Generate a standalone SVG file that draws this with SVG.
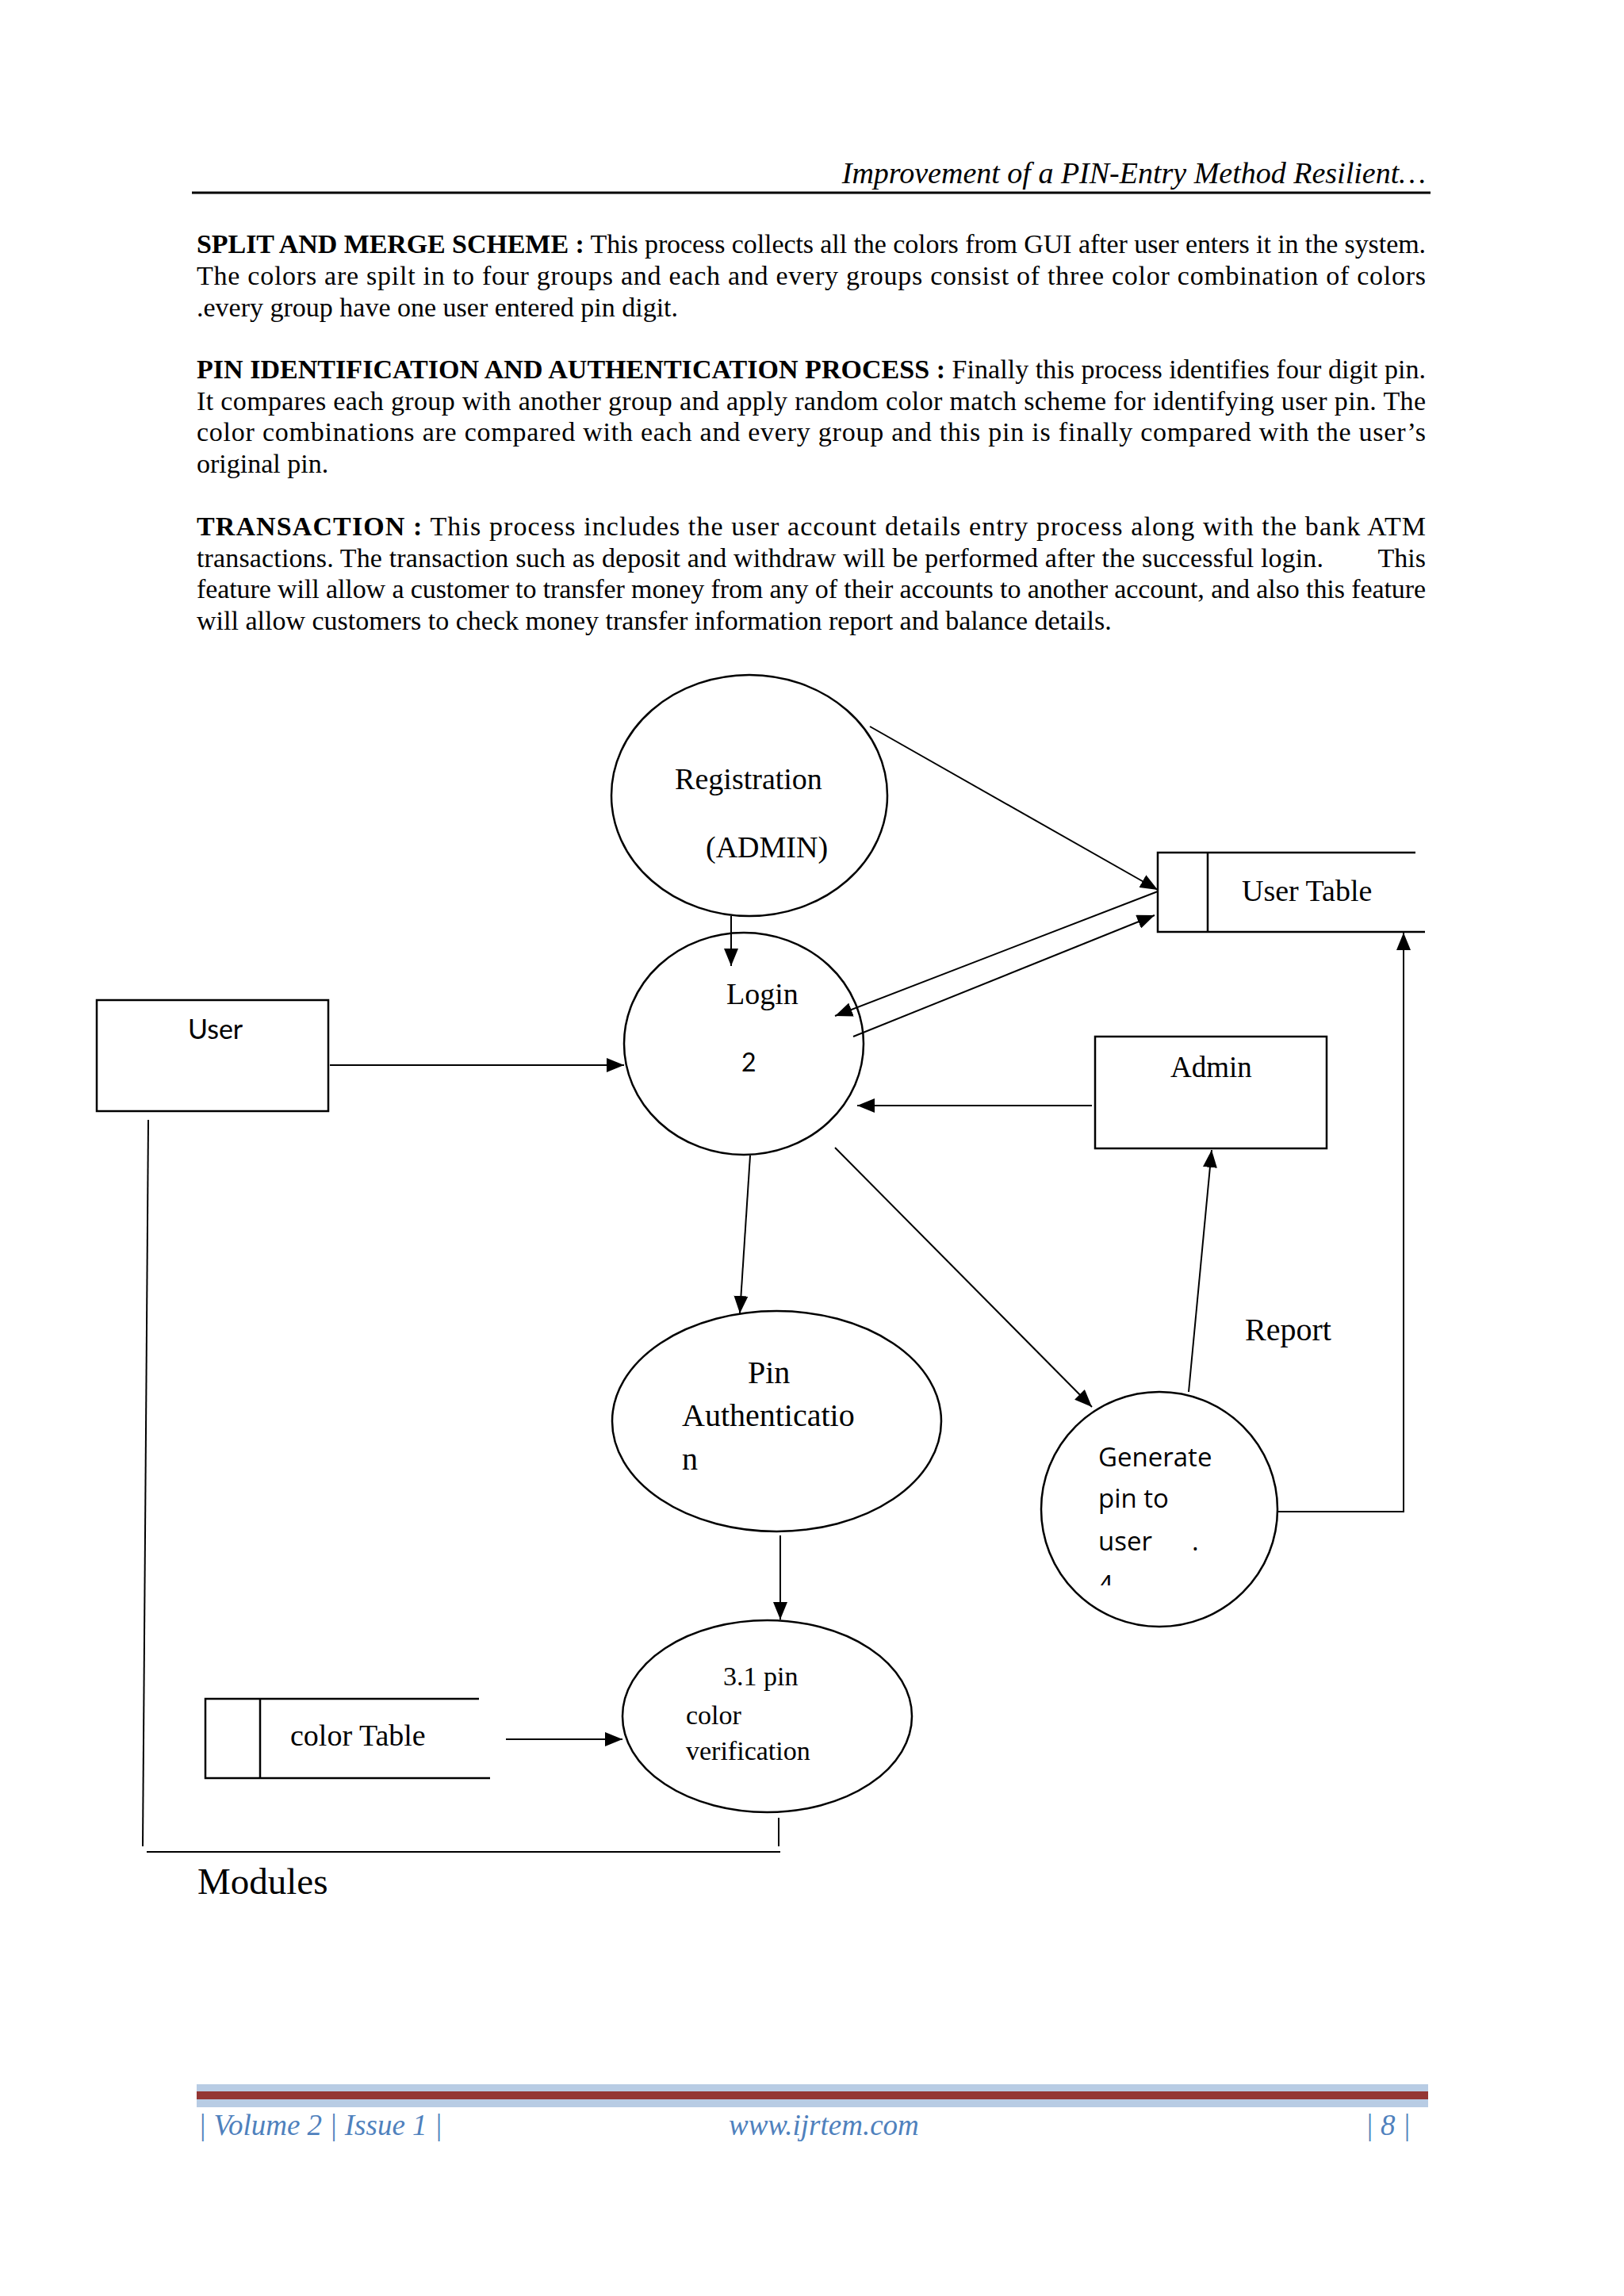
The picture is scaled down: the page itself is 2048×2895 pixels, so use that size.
<svg xmlns="http://www.w3.org/2000/svg" width="2048" height="2895" viewBox="0 0 2048 2895">
<style>
.body{font-family:"Liberation Serif","Times New Roman",serif;font-size:34px;fill:#000}
.b{font-weight:bold}
.ser{font-family:"Liberation Serif","Times New Roman",serif;fill:#000}
.sans{font-family:Lato,"Liberation Sans",sans-serif;fill:#000}
.os{font-family:"Open Sans","DejaVu Sans",sans-serif;fill:#000}
.shape{fill:none;stroke:#000;stroke-width:2.5}
.ln{fill:none;stroke:#000;stroke-width:2}
.foot{font-family:"Liberation Serif","Times New Roman",serif;font-style:italic;font-size:37px;fill:#4f81bd}
</style>
<defs>
<marker id="ah" markerUnits="userSpaceOnUse" markerWidth="22" markerHeight="18" refX="22" refY="9" orient="auto">
<path d="M0,0 L22,9 L0,18 z" fill="#000"/>
</marker>
<clipPath id="clip4"><rect x="1370" y="1970" width="60" height="29"/></clipPath>
</defs>
<rect width="2048" height="2895" fill="#fff"/>

<g id="header">
<text class="ser" x="1798" y="231" font-size="38" font-style="italic" text-anchor="end">Improvement of a PIN-Entry Method Resilient…</text>
<line x1="242" y1="243" x2="1804" y2="243" stroke="#000" stroke-width="3"/>
</g>

<g id="text-body">
<text class="body" x="248" y="319" textLength="1550" lengthAdjust="spacing"><tspan class="b">SPLIT AND MERGE SCHEME :</tspan> This process collects all the colors from GUI after user enters it in the system.</text>
<text class="body" x="248" y="359" textLength="1550" lengthAdjust="spacing">The colors are spilt in to four groups and each and every groups consist of three color  combination of colors</text>
<text class="body" x="248" y="399">.every group have one user entered pin digit.</text>

<text class="body" x="248" y="477" textLength="1550" lengthAdjust="spacing"><tspan class="b">PIN IDENTIFICATION AND AUTHENTICATION PROCESS :</tspan> Finally this process identifies four digit pin.</text>
<text class="body" x="248" y="517" textLength="1550" lengthAdjust="spacing">It compares each group with another group and apply random color match scheme for identifying user pin. The</text>
<text class="body" x="248" y="556" textLength="1550" lengthAdjust="spacing">color combinations are compared with each and every group and this pin is finally compared with the user’s</text>
<text class="body" x="248" y="596">original pin.</text>

<text class="body" x="248" y="675" textLength="1550" lengthAdjust="spacing"><tspan class="b">TRANSACTION :</tspan> This process includes the user account details entry process along with the bank ATM</text>
<text class="body" x="248" y="715" textLength="1421" lengthAdjust="spacing">transactions. The transaction such as deposit and withdraw will be performed after the successful login.</text>
<text class="body" x="1798" y="715" text-anchor="end">This</text>
<text class="body" x="248" y="754" textLength="1550" lengthAdjust="spacing">feature will allow a customer to transfer money from any of their accounts to another account, and also this feature</text>
<text class="body" x="248" y="794">will allow customers to check money transfer information report and balance details.</text>
</g>

<g id="connectors">
<line class="ln" x1="922" y1="1155" x2="922" y2="1218" marker-end="url(#ah)"/>
<line class="ln" x1="1097" y1="916" x2="1460" y2="1122" marker-end="url(#ah)"/>
<line class="ln" x1="1460" y1="1124" x2="1053" y2="1281" marker-end="url(#ah)"/>
<line class="ln" x1="1076" y1="1307" x2="1456" y2="1154" marker-end="url(#ah)"/>
<line class="ln" x1="416" y1="1343" x2="787" y2="1343" stroke-width="3" marker-end="url(#ah)"/>
<line class="ln" x1="1377" y1="1394" x2="1081" y2="1394" marker-end="url(#ah)"/>
<line class="ln" x1="946" y1="1457" x2="933" y2="1656" marker-end="url(#ah)"/>
<line class="ln" x1="1053" y1="1447" x2="1377" y2="1774" marker-end="url(#ah)"/>
<line class="ln" x1="1499" y1="1755" x2="1528" y2="1450" marker-end="url(#ah)"/>
<polyline class="ln" points="1612,1906 1770,1906 1770,1176" marker-end="url(#ah)"/>
<line class="ln" x1="984" y1="1936" x2="984" y2="2042" marker-end="url(#ah)"/>
<line class="ln" x1="638" y1="2193" x2="785" y2="2193" stroke-width="3" marker-end="url(#ah)"/>
<line class="ln" x1="187" y1="1412" x2="180" y2="2328"/>
<line class="ln" x1="185" y1="2335" x2="984" y2="2335" stroke-width="3"/>
<line class="ln" x1="982" y1="2292" x2="982" y2="2328"/>
</g>

<g id="registration">
<ellipse class="shape" cx="945" cy="1003" rx="174" ry="152"/>
<text class="ser" x="944" y="995" font-size="38" text-anchor="middle">Registration</text>
<text class="ser" x="890" y="1081" font-size="38">(ADMIN)</text>
</g>

<g id="user-table">
<path class="shape" d="M1785,1075 H1460 V1175 H1797 M1523,1075 V1175"/>
<text class="ser" x="1566" y="1136" font-size="38">User Table</text>
</g>

<g id="login">
<ellipse class="shape" cx="938" cy="1316" rx="151" ry="140"/>
<text class="ser" x="916" y="1266" font-size="38">Login</text>
<text class="sans" x="935" y="1351" font-size="32">2</text>
</g>

<g id="user">
<rect class="shape" x="122" y="1261" width="292" height="140"/>
<text class="sans" x="237" y="1310" font-size="34">User</text>
</g>

<g id="admin">
<rect class="shape" x="1381" y="1307" width="292" height="141"/>
<text class="ser" x="1476" y="1358" font-size="37">Admin</text>
</g>

<g id="report-label">
<text class="ser" x="1570" y="1690" font-size="40">Report</text>
</g>

<g id="pin-authentication">
<ellipse class="shape" cx="979.5" cy="1792" rx="207.5" ry="139"/>
<text class="ser" x="943" y="1744" font-size="40">Pin</text>
<text class="ser" x="860" y="1798" font-size="40">Authenticatio</text>
<text class="ser" x="860" y="1853" font-size="40">n</text>
</g>

<g id="generate-pin">
<ellipse class="shape" cx="1462" cy="1903" rx="149" ry="148"/>
<text class="os" x="1385" y="1849" font-size="33">Generate</text>
<text class="os" x="1385" y="1901" font-size="33">pin to</text>
<text class="os" x="1385" y="1955" font-size="33">user</text>
<text class="os" x="1503" y="1955" font-size="33">.</text>
<text class="os" x="1385" y="2010" font-size="33" clip-path="url(#clip4)">4</text>
</g>

<g id="pin-color-verification">
<ellipse class="shape" cx="967.5" cy="2164" rx="182.5" ry="121"/>
<text class="ser" x="912" y="2125" font-size="34">3.1 pin</text>
<text class="ser" x="865" y="2174" font-size="34">color</text>
<text class="ser" x="865" y="2219" font-size="34">verification</text>
</g>

<g id="color-table">
<path class="shape" d="M604,2142 H259 V2242 H618 M328,2142 V2242"/>
<text class="ser" x="366" y="2201" font-size="38">color Table</text>
</g>

<g id="modules-label">
<text class="ser" x="249" y="2388" font-size="47">Modules</text>
</g>

<g id="footer">
<rect x="248" y="2628" width="1553" height="9" fill="#b8cce4"/>
<rect x="248" y="2637" width="1553" height="10" fill="#943634"/>
<rect x="248" y="2647" width="1553" height="10" fill="#b8cce4"/>
<text class="foot" x="250" y="2692">| Volume 2 | Issue 1 |</text>
<text class="foot" x="919" y="2692">www.ijrtem.com</text>
<text class="foot" x="1779" y="2692" text-anchor="end">| 8 |</text>
</g>
</svg>
